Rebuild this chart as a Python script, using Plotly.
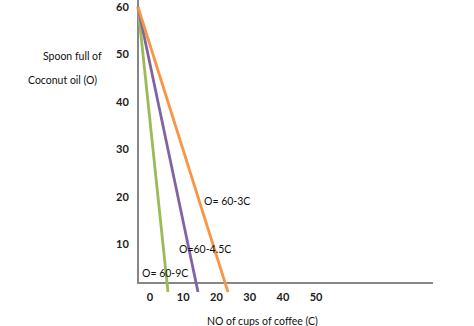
import plotly.graph_objects as go

# Data: O = 60 - k*C
intercept = 60
slopes = [9, 4.5, 3]
line_labels = ["O= 60-9C", "O=60-4.5C", "O= 60-3C"]
line_colors = ["#9BBB59", "#8064A2", "#F79646"]
x_ticks = [0, 10, 20, 30, 40, 50]
y_ticks = [10, 20, 30, 40, 50, 60]
x_title = "NO of cups of coffee (C)"
y_title_1 = "Spoon full of"
y_title_2 = "Coconut oil (O)"

W, H = 474, 326
B = 300  # bottom of plot area in px
FONT = "Lato"

fig = go.Figure()
for k, col in zip(slopes, line_colors):
    fig.add_trace(go.Scatter(x=[0, intercept / k], y=[intercept, 0], mode="lines",
                             line=dict(color=col, width=2.8), xaxis="x2", yaxis="y2",
                             showlegend=False, hoverinfo="skip"))
fig.add_trace(go.Scatter(x=[None], y=[None], xaxis="x", yaxis="y", showlegend=False, hoverinfo="skip"))

# data scale (px)
p0, sx = 138.0, 4.5
o0, sy = 292.0, 4.75
# label axis scale
q0, qx = 150.0, 3.322
axL, axR, axY = 139.0, 433.0, 282.0

axis_font = dict(family=FONT, size=11, color="#202020", weight="bold")
fig.update_layout(
    width=W, height=H, margin=dict(l=0, r=0, t=0, b=H - B),
    paper_bgcolor="white", plot_bgcolor="rgba(0,0,0,0)", showlegend=False,
    xaxis=dict(domain=[axL / W, axR / W], anchor="y",
               range=[(axL - q0) / qx, (axR - q0) / qx],
               tickvals=x_ticks, showline=True, linecolor="#868686", linewidth=2,
               showgrid=False, zeroline=False, ticks="", tickfont=axis_font,
               ticklabelstandoff=4, ticklabeloverflow="allow"),
    yaxis=dict(domain=[(B - axY) / B, 1], anchor="x",
               range=[(o0 - axY) / sy, o0 / sy],
               tickvals=y_ticks, showline=True, linecolor="#868686", linewidth=2,
               showgrid=False, zeroline=False, ticks="", tickfont=axis_font,
               ticklabelstandoff=6, ticklabeloverflow="allow"),
    xaxis2=dict(domain=[0, 1], anchor="y2", range=[-p0 / sx, (W - p0) / sx], visible=False),
    yaxis2=dict(domain=[0, 1], anchor="x2", range=[(o0 - B) / sy, o0 / sy], visible=False),
)

text_font = dict(family=FONT, size=10.5, color="#101010")
# line labels (data coords)
label_pos = [(6.0, 4.0), (14.9, 9.05), (19.67, 19.16)]
for (cx, cy), t in zip(label_pos, line_labels):
    fig.add_annotation(x=cx, y=cy, xref="x2", yref="y2", text=t, showarrow=False,
                       xanchor="center", yanchor="middle", font=text_font)

for (px, py), t in zip([(262, 321), (72, 56), (62, 80)], [x_title, y_title_1, y_title_2]):
    fig.add_annotation(x=px / W, y=(B - py) / B, xref="paper", yref="paper", text=t,
                       showarrow=False, xanchor="center", yanchor="middle", font=text_font)

fig.write_html("out.html")
